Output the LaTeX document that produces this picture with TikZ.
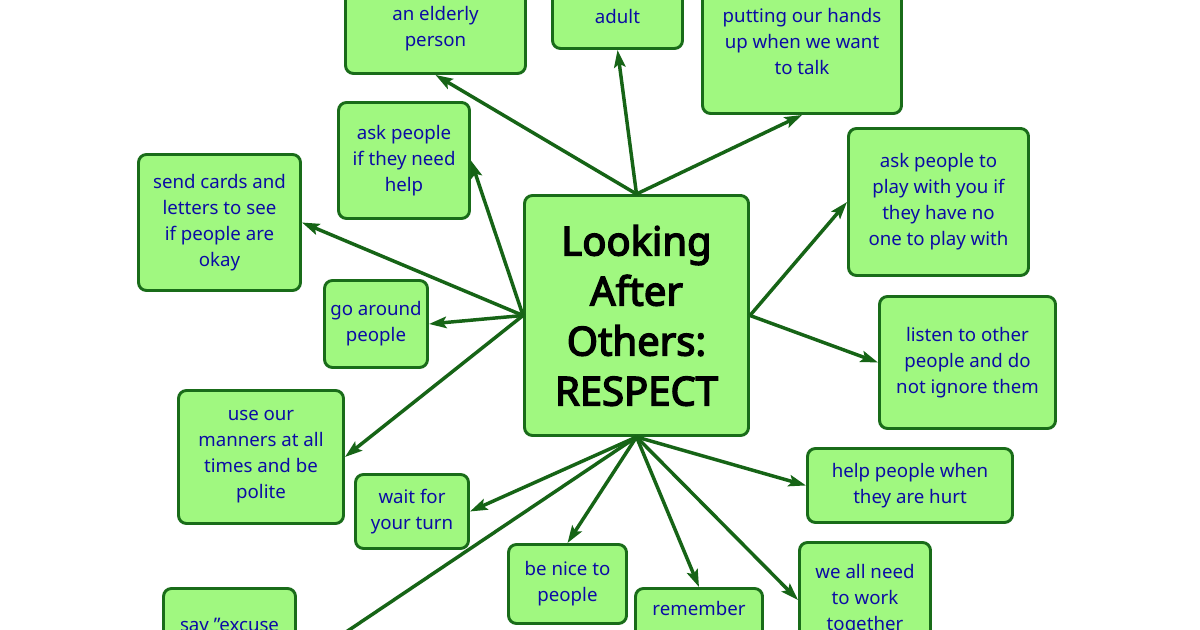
\documentclass[tikz,border=0pt]{standalone}
\usepackage{fontspec}
\setmainfont{Noto Sans}
\newfontfamily\hubfont{Noto Sans}[FakeBold=3.5]
\usetikzlibrary{arrows.meta,calc}
\definecolor{boxfill}{RGB}{160,248,128}
\definecolor{boxline}{RGB}{25,108,25}
\definecolor{arrowcol}{RGB}{22,100,22}
\definecolor{txtblue}{RGB}{12,12,165}
\tikzset{
  box/.style={draw=boxline, fill=boxfill, line width=2.2pt, rounded corners=6pt,
    align=center, text=txtblue, inner sep=0pt,
    font=\fontsize{14}{19.5}\selectfont},
  sz/.style 2 args={minimum width=#1*0.75pt, minimum height=#2*0.75pt},
  hubbox/.style={box, text=black, font=\hubfont\fontsize{30}{37.5}\selectfont},
  txtonly/.style={text=txtblue, align=center, inner sep=0pt,
    font=\fontsize{14}{19.5}\selectfont},
  conn/.style={draw=arrowcol, line width=2.6pt,
    -{Stealth[length=13pt, width=8.5pt, inset=2.5pt]}},
}
\begin{document}
\begin{tikzpicture}[x=0.75pt, y=-0.75pt]
\useasboundingbox (0,0) rectangle (1200,630);
\clip (0,0) rectangle (1200,630);
\fill[white] (0,0) rectangle (1200,630);

% hub
\node[hubbox, sz={224}{240}] (hub) at (636.5,315.5) {Looking\\After\\Others:\\RESPECT};

% surrounding boxes
\node[box, sz={180}{90}]  (A) at (435.5,28.5) {an elderly\\person};
\node[box, sz={130}{63}]  (B) at (617.5,17) {adult};
\node[box, sz={199}{144}] (C) at (802,41.5) {putting our hands\\up when we want\\to talk};
\node[box, sz={131}{116}] (D) at (404,160.5) {ask people\\if they need\\help};
\node[box, sz={162}{136}] (E) at (219.5,222.5) {send cards and\\letters to see\\if people are\\okay};
\node[box, sz={103}{87}]  (F) at (376,324) {go around\\people};
\node[box, sz={165}{133}] (H) at (261,457) {use our\\manners at all\\times and be\\polite};
\node[box, sz={113}{74}]  (I) at (412,511.5) {wait for\\your turn};
\node[box, sz={132}{153}] (J) at (229.5,665) {};
\node[txtonly] (Jt) at (229.5,627) {say \symbol{34}excuse};
\node[box, sz={118}{79}]  (K) at (567.5,584) {be nice to\\people};
\node[box, sz={127}{110}] (L) at (699,643.5) {};
\node[txtonly] (Lt) at (699,608) {remember};
\node[box, sz={131}{115}] (M) at (865,600) {we all need\\to work\\together};
\node[box, sz={205}{74}]  (N) at (910,485.5) {help people when\\they are hurt};
\node[box, sz={176}{132}] (O) at (967.5,362.5) {listen to other\\people and do\\not ignore them};
\node[box, sz={180}{147}] (P) at (938.5,202) {ask people to\\play with you if\\they have no\\one to play with};

% connectors
\draw[conn] (hub.north) -- (A.south);
\draw[conn] (hub.north) -- (B.south);
\draw[conn] (hub.north) -- (C.south);
\draw[conn] (hub.west) -- (D.east);
\draw[conn] (hub.west) -- (E.east);
\draw[conn] (hub.west) -- (F.east);
\draw[conn] (hub.west) -- (H.east);
\draw[conn] (hub.south) -- (I.east);
\draw[conn] (hub.south) -- (J.east);
\draw[conn] (hub.south) -- (K.north);
\draw[conn] (hub.south) -- (L.north);
\draw[conn] (hub.south) -- (M.west);
\draw[conn] (hub.south) -- (N.west);
\draw[conn] (hub.east) -- (O.west);
\draw[conn] (hub.east) -- (P.west);
\end{tikzpicture}
\end{document}
